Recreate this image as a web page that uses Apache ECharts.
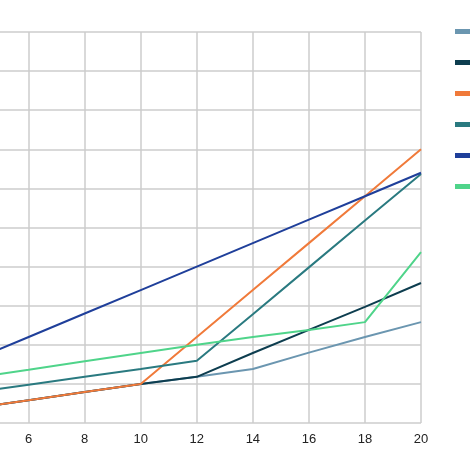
<!DOCTYPE html>
<html>
<head>
<meta charset="utf-8">
<script src="https://cdn.jsdelivr.net/npm/echarts@6/dist/echarts.min.js"></script>
<style>html,body{margin:0;padding:0;background:#fff;overflow:hidden}#chart{width:508px;height:474px;margin-left:-34px}</style>
</head>
<body>
<div id="chart"></div>
<script>
// x 位置
var xs = [4, 6, 8, 10, 12, 14, 16, 18, 20];
// 各系列的值
var s1 = [0.38, 0.58, 0.79, 1.0, 1.18, 1.38, 1.8, 2.2, 2.58];
var s2 = [0.38, 0.58, 0.79, 1.0, 1.18, 1.79, 2.38, 2.97, 3.58];
var s3 = [0.38, 0.58, 0.79, 1.0, 2.2, 3.4, 4.6, 5.8, 7.0];
var s4 = [0.78, 0.98, 1.18, 1.38, 1.59, 2.78, 3.98, 5.18, 6.37];
var s5 = [1.6, 2.2, 2.8, 3.4, 4.0, 4.6, 5.2, 5.8, 6.4];
var s6 = [1.15, 1.36, 1.58, 1.79, 2.0, 2.2, 2.38, 2.58, 4.37];
var names = ['S1', 'S2', 'S3', 'S4', 'S5', 'S6'];
var colors = ['#6b96b0', '#0d3d4f', '#f07a3a', '#2a7a80', '#1f3f9a', '#4fd48a'];

var allData = [s1, s2, s3, s4, s5, s6];
var series = allData.map(function (arr, i) {
    return {
        name: names[i],
        type: 'line',
        showSymbol: false,
        symbol: 'none',
        lineStyle: {width: 2, color: colors[i]},
        itemStyle: {color: colors[i]},
        data: arr.map(function (v, j) { return [xs[j], v]; })
    };
});

var myChart = echarts.init(document.getElementById('chart'));
myChart.setOption({
    animation: false,
    // 左边故意裁掉，和原图一样
    grid: {left: 0, right: 53, top: 32, bottom: 51},
    legend: {
        orient: 'vertical',
        left: 484,
        top: 24,
        icon: 'rect',
        itemWidth: 15,
        itemHeight: 5,
        itemGap: 26,
        formatter: function () { return ''; },
        data: names
    },
    xAxis: {
        type: 'value', min: 4, max: 20, interval: 2,
        axisLine: {show: false},
        axisTick: {show: false},
        axisLabel: {color: '#222', fontSize: 13, fontFamily: 'Liberation Sans', margin: 10},
        splitLine: {show: true, lineStyle: {color: '#cccccc', width: 1.5}}
    },
    yAxis: {
        type: 'value', min: 0, max: 10, interval: 1,
        axisLine: {show: false},
        axisTick: {show: false},
        axisLabel: {show: false},
        splitLine: {show: true, lineStyle: {color: '#cccccc', width: 1.5}}
    },
    series: series
});
</script>
</body>
</html>
